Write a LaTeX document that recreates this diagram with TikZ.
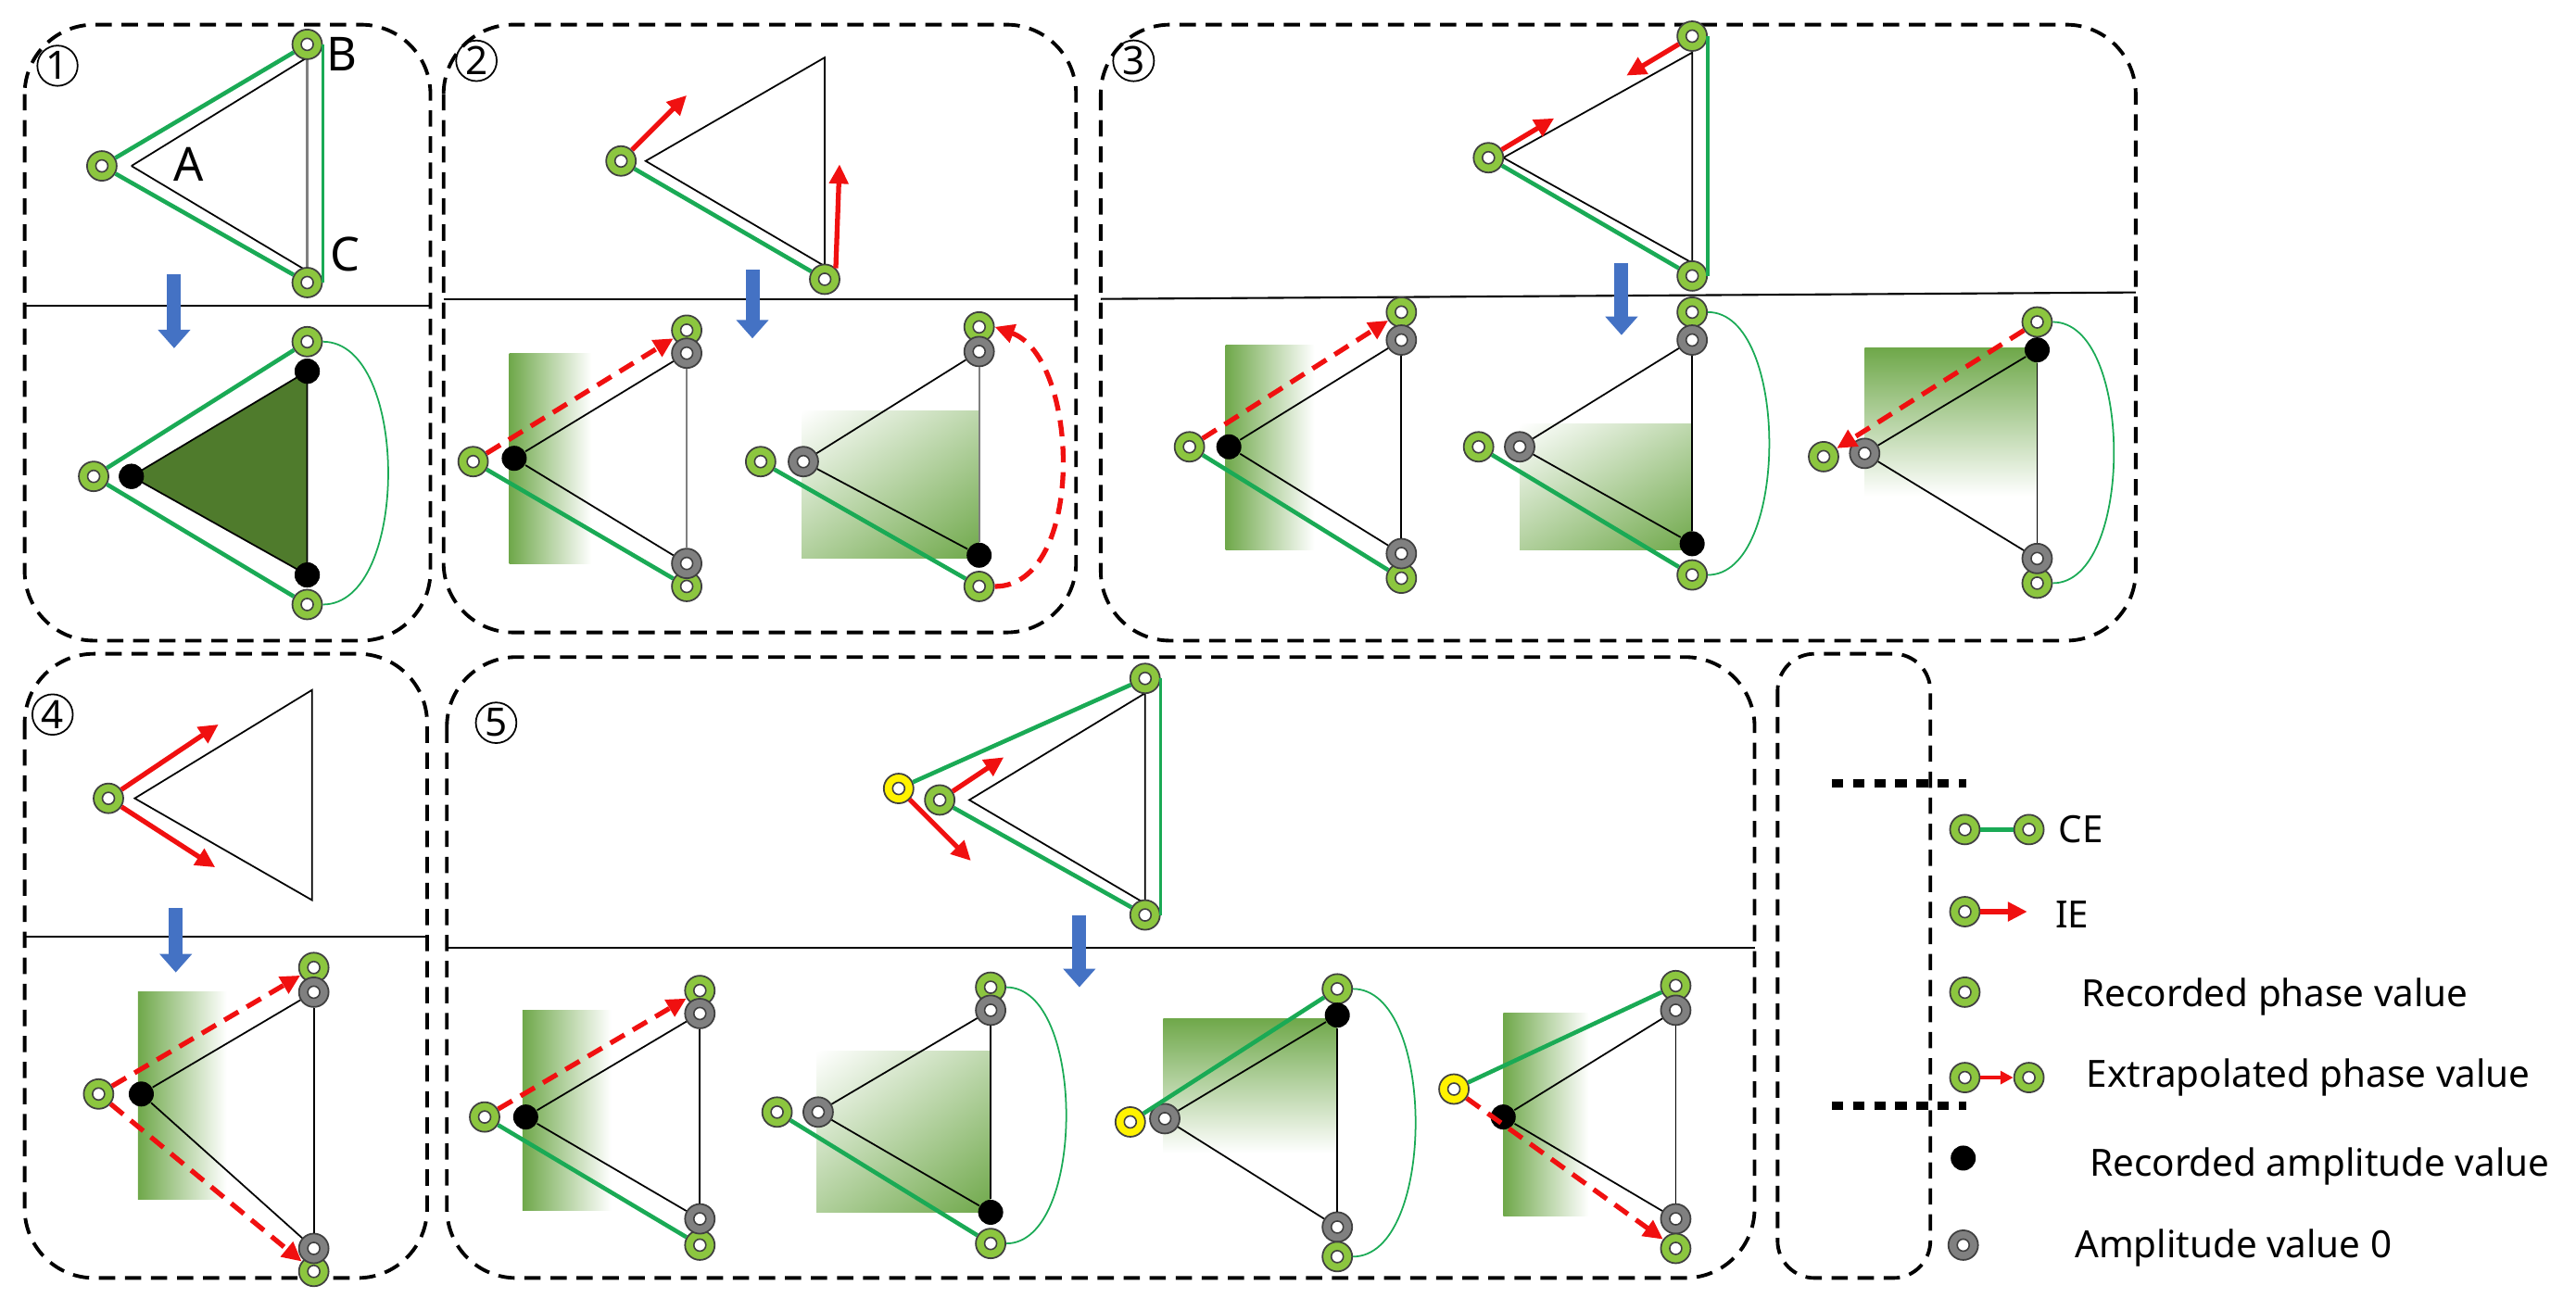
\documentclass[tikz,border=0pt]{standalone}
\usepackage{fontspec}
\setmainfont{Noto Sans}
\usetikzlibrary{arrows.meta,shadings}
\definecolor{lgreen}{HTML}{8CC63F}
\definecolor{cegreen}{HTML}{1AAA55}
\definecolor{dgreen}{HTML}{4F7B2C}
\definecolor{gshade}{HTML}{6FA84A}
\definecolor{bblue}{HTML}{4472C4}
\definecolor{rred}{HTML}{F01010}
\tikzset{
 ph/.style={circle,draw=black!75,line width=0.5pt,fill=lgreen,minimum size=0.32cm,inner sep=0pt,
   path picture={\draw[black!75,fill=white,line width=0.45pt] (path picture bounding box.center) circle (0.065cm);}},
 gz/.style={ph,fill=black!50},
 yp/.style={ph,fill=yellow},
 amp/.style={circle,fill=black,minimum size=0.27cm,inner sep=0pt},
 tri/.style={draw=black,line width=0.5pt},
 ce/.style={draw=cegreen,line width=1.3pt},
 ie/.style={draw=rred,line width=1.5pt,-{Triangle[length=0.21cm,width=0.2cm]}},
 ied/.style={ie,dash pattern=on 5pt off 3pt},
 arcg/.style={draw=cegreen,line width=0.5pt},
 box/.style={draw=black,line width=1.1pt,rounded corners=0.75cm,dash pattern=on 5pt off 3pt},
 sep/.style={draw=black,line width=0.6pt},
 down/.style={draw=bblue,line width=0.15cm,-{Triangle[length=0.2cm,width=0.34cm]}},
 num/.style={circle,draw=black,line width=0.5pt,inner sep=0.5pt,minimum size=0.42cm,font=\large},
 leg/.style={anchor=west,font=\fontsize{11.5}{14}\selectfont},
 diag/.style={upper left=white,upper right=gshade!45,lower left=gshade!55,lower right=gshade},
}
\begin{document}
\begin{tikzpicture}[x=0.01773cm,y=-0.01773cm]
\useasboundingbox (0,0) rectangle (1568,790);
% ================= boxes
\draw[box] (15,15) rectangle (262,390);
\draw[box] (270,15) rectangle (655,385);
\draw[box] (670,15) rectangle (1300,390);
\draw[box] (15,398) rectangle (260,778);
\draw[box] (272,400) rectangle (1068,778);
\draw[box,rounded corners=0.4cm] (1082,398) rectangle (1175,778);
\draw[sep] (15,186) -- (262,186);
\draw[sep] (270,182) -- (655,182);
\draw[sep] (670,182) -- (1300,178);
\draw[sep] (15,570) -- (260,570);
\draw[sep] (272,577) -- (1068,577);
\node[num] (n1) at (35,40) {1};
\node[num] (n2) at (290,37) {2};
\node[num] (n3) at (690,37) {3};
\node[num] (n4) at (32,435) {4};
\node[num] (n5) at (302,440) {5};
% ================= panel 1
\coordinate (a1t) at (80,101); \coordinate (b1t) at (187,35); \coordinate (c1t) at (187,165);
\draw[tri] (a1t) -- (b1t); \draw[tri] (a1t) -- (c1t); \draw[gray,line width=0.8pt] (b1t) -- (c1t);
\node[ph] (p1a) at (62,101) {}; \node[ph] (p1b) at (187,27) {}; \node[ph] (p1c) at (187,172) {};
\draw[ce] (p1a) -- (p1b); \draw[ce] (p1a) -- (p1c);
\draw[cegreen,line width=0.9pt] (p1b.east) -- (p1c.east);
\node (lA) at (115,100) {\Large A}; \node (lB) at (208,33) {\Large B}; \node (lC) at (210,155) {\Large C};
\coordinate (q1s) at (106,167); \coordinate (q1e) at (106,212); \draw[down] (q1s) -- (q1e);
\node[amp] (d1a) at (80,290) {}; \node[amp] (d1b) at (187,226) {}; \node[amp] (d1c) at (187,350) {};
\fill[dgreen] (d1a.center) -- (d1b.center) -- (d1c.center) -- cycle;
\draw[tri] (d1a.center) -- (d1b.center) -- (d1c.center) -- cycle;
\node[amp] at (d1a) {}; \node[amp] at (d1b) {}; \node[amp] at (d1c) {};
\node[ph] (g1a) at (57,290) {}; \node[ph] (g1b) at (187,208) {}; \node[ph] (g1c) at (187,368) {};
\draw[ce] (g1a) -- (g1b); \draw[ce] (g1a) -- (g1c);
\draw[arcg] (g1b.east) to[out=0,in=0,looseness=0.85] (g1c.east);
% ================= panel 2
\coordinate (a2t) at (393,98); \coordinate (b2t) at (502,35); \coordinate (c2t) at (502,162);
\draw[tri] (a2t) -- (b2t) -- (c2t) -- cycle;
\node[ph] (p2a) at (378,98) {}; \node[ph] (p2c) at (502,170) {};
\draw[ce] (p2a) -- (p2c);
\coordinate (r2a) at (418,58); \draw[ie] (p2a) -- (r2a);
\coordinate (r2b) at (511,100); \draw[ie] (p2c.north east) -- (r2b);
\coordinate (q2s) at (458,164); \coordinate (q2e) at (458,206); \draw[down] (q2s) -- (q2e);
% bottom left
\shade[left color=gshade,right color=white] (310,215) rectangle (360,343);
\node[ph] (g2a) at (288,281) {}; \node[ph] (g2b) at (418,201) {}; \node[ph] (g2c) at (418,357) {};
\node[gz] (z2b) at (418,215) {}; \node[gz] (z2c) at (418,343) {};
\node[amp] (d2a) at (313,279) {};
\draw[tri] (d2a) -- (z2b); \draw[tri] (d2a) -- (z2c); \draw[tri,gray] (z2b) -- (z2c);
\draw[ce] (g2a) -- (g2c); \draw[ied] (g2a) -- (g2b);
% bottom right
\shade[diag] (488,250) rectangle (596,340);
\node[ph] (g2d) at (463,281) {}; \node[ph] (g2e) at (596,199) {}; \node[ph] (g2f) at (596,357) {};
\node[gz] (z2d) at (489,281) {}; \node[gz] (z2e) at (596,214) {}; \node[amp] (d2f) at (596,338) {};
\draw[tri] (z2d) -- (z2e); \draw[tri] (z2d) -- (d2f); \draw[tri,gray] (z2e) -- (d2f);
\draw[ce] (g2d) -- (g2f);
\draw[ied] (g2f.east) to[out=0,in=-20,looseness=0.9] (g2e.east);
% ================= panel 3
\coordinate (a3t) at (915,96); \coordinate (b3t) at (1030,32); \coordinate (c3t) at (1030,160);
\draw[tri] (a3t) -- (b3t) -- (c3t) -- cycle;
\node[ph] (p3a) at (906,96) {}; \node[ph] (p3b) at (1030,22) {}; \node[ph] (p3c) at (1030,168) {};
\draw[ce] (p3a) -- (p3c); \draw[cegreen,line width=0.9pt] (p3b.east) -- (p3c.east);
\coordinate (r3a) at (946,72); \draw[ie] (p3a) -- (r3a);
\coordinate (r3b) at (990,46); \draw[ie] (p3b) -- (r3b);
\coordinate (q3s) at (987,160); \coordinate (q3e) at (987,204); \draw[down] (q3s) -- (q3e);
% b1
\shade[left color=gshade,right color=white] (746,210) rectangle (800,335);
\node[ph] (g3a) at (724,272) {}; \node[ph] (g3b) at (853,190) {}; \node[ph] (g3c) at (853,352) {};
\node[gz] (z3b) at (853,207) {}; \node[gz] (z3c) at (853,337) {}; \node[amp] (d3a) at (748,272) {};
\draw[tri] (d3a) -- (z3b); \draw[tri] (d3a) -- (z3c); \draw[tri] (z3b) -- (z3c);
\draw[ce] (g3a) -- (g3c); \draw[ied] (g3a) -- (g3b);
% b2
\shade[diag] (925,258) rectangle (1030,335);
\node[ph] (g3d) at (900,272) {}; \node[ph] (g3e) at (1030,190) {}; \node[ph] (g3f) at (1030,350) {};
\node[gz] (z3d) at (925,272) {}; \node[gz] (z3e) at (1030,207) {}; \node[amp] (d3f) at (1030,331) {};
\draw[tri] (z3d) -- (z3e); \draw[tri] (z3d) -- (d3f); \draw[tri] (z3e) -- (d3f);
\draw[ce] (g3d) -- (g3f);
\draw[arcg] (g3e.east) to[out=0,in=0,looseness=0.8] (g3f.east);
% b3
\shade[top color=gshade,bottom color=white] (1135,212) rectangle (1240,302);
\node[ph] (g3g) at (1110,278) {}; \node[ph] (g3h) at (1240,196) {}; \node[ph] (g3i) at (1240,355) {};
\node[gz] (z3g) at (1135,276) {}; \node[gz] (z3i) at (1240,340) {}; \node[amp] (d3h) at (1240,213) {};
\draw[tri] (z3g) -- (d3h); \draw[tri] (z3g) -- (z3i); \draw[tri] (d3h) -- (z3i);
\draw[ied] (g3h) -- (g3g);
\draw[arcg] (g3h.east) to[out=0,in=0,looseness=0.8] (g3i.east);
% ================= panel 4
\coordinate (a4t) at (82,486); \coordinate (b4t) at (190,420); \coordinate (c4t) at (190,548);
\draw[tri] (a4t) -- (b4t) -- (c4t) -- cycle;
\node[ph] (p4a) at (66,486) {};
\coordinate (r4a) at (133,441); \draw[ie] (p4a) -- (r4a);
\coordinate (r4b) at (131,528); \draw[ie] (p4a) -- (r4b);
\coordinate (q4s) at (107,553); \coordinate (q4e) at (107,592); \draw[down] (q4s) -- (q4e);
\shade[left color=gshade,right color=white] (84,604) rectangle (138,730);
\node[ph] (g4a) at (60,666) {}; \node[ph] (g4b) at (191,589) {}; \node[ph] (g4c) at (191,774) {};
\node[gz] (z4b) at (191,604) {}; \node[gz] (z4c) at (191,760) {}; \node[amp] (d4a) at (86,666) {};
\draw[tri] (d4a) -- (z4b); \draw[tri] (d4a) -- (z4c); \draw[tri] (z4b) -- (z4c);
\draw[ied] (g4a) -- (g4b); \draw[ied] (g4a) -- (g4c);
% ================= panel 5
\coordinate (a5t) at (590,487); \coordinate (b5t) at (697,422); \coordinate (c5t) at (697,550);
\draw[tri] (a5t) -- (b5t) -- (c5t) -- cycle;
\node[yp] (y5a) at (547,480) {}; \node[ph] (p5a) at (572,487) {};
\node[ph] (p5b) at (697,413) {}; \node[ph] (p5c) at (697,557) {};
\draw[ce] (y5a) -- (p5b); \draw[ce] (p5a) -- (p5c); \draw[cegreen,line width=0.9pt] (p5b.east) -- (p5c.east);
\coordinate (r5a) at (611,461); \draw[ie] (p5a) -- (r5a);
\coordinate (r5b) at (591,524); \draw[ie] (y5a) -- (r5b);
\coordinate (q5s) at (657,557); \coordinate (q5e) at (657,601); \draw[down] (q5s) -- (q5e);
% b1
\shade[left color=gshade,right color=white] (318,615) rectangle (372,737);
\node[ph] (g5a) at (295,680) {}; \node[ph] (g5b) at (426,603) {}; \node[ph] (g5c) at (426,758) {};
\node[gz] (z5b) at (426,617) {}; \node[gz] (z5c) at (426,742) {}; \node[amp] (d5a) at (320,680) {};
\draw[tri] (d5a) -- (z5b); \draw[tri] (d5a) -- (z5c); \draw[tri] (z5b) -- (z5c);
\draw[ce] (g5a) -- (g5c); \draw[ied] (g5a) -- (g5b);
% b2
\shade[diag] (497,640) rectangle (603,738);
\node[ph] (g5d) at (473,677) {}; \node[ph] (g5e) at (603,601) {}; \node[ph] (g5f) at (603,757) {};
\node[gz] (z5d) at (498,677) {}; \node[gz] (z5e) at (603,615) {}; \node[amp] (d5f) at (603,738) {};
\draw[tri] (z5d) -- (z5e); \draw[tri] (z5d) -- (d5f); \draw[tri] (z5e) -- (d5f);
\draw[ce] (g5d) -- (g5f);
\draw[arcg] (g5e.east) to[out=0,in=0,looseness=0.8] (g5f.east);
% b3
\shade[top color=gshade,bottom color=white] (708,620) rectangle (814,702);
\node[yp] (y5g) at (688,683) {}; \node[gz] (z5g) at (709,681) {};
\node[ph] (g5h) at (814,602) {}; \node[amp] (d5h) at (814,618) {};
\node[gz] (z5i) at (814,747) {}; \node[ph] (g5i) at (814,765) {};
\draw[tri] (z5g) -- (d5h); \draw[tri] (z5g) -- (z5i); \draw[tri] (d5h) -- (z5i);
\draw[ce] (y5g) -- (g5h);
\draw[arcg] (g5h.east) to[out=0,in=0,looseness=0.8] (g5i.east);
% b4
\shade[left color=gshade,right color=white] (915,617) rectangle (967,740);
\node[yp] (y5j) at (885,663) {}; \node[amp] (d5j) at (915,680) {};
\node[ph] (g5k) at (1020,600) {}; \node[gz] (z5k) at (1020,615) {};
\node[gz] (z5l) at (1020,742) {}; \node[ph] (g5l) at (1020,760) {};
\draw[tri] (d5j) -- (z5k); \draw[tri] (d5j) -- (z5l); \draw[tri] (z5k) -- (z5l);
\draw[ce] (y5j) -- (g5k); \draw[ied] (y5j) -- (g5l);
% ================= legend
\coordinate (dl1) at (1115,477); \coordinate (dr1) at (1197,477);
\coordinate (dl2) at (1115,673); \coordinate (dr2) at (1197,673);
\draw[line width=2.6pt,dash pattern=on 3.5pt off 3pt] (dl1) -- (dr1);
\draw[line width=2.6pt,dash pattern=on 3.5pt off 3pt] (dl2) -- (dr2);
\node[ph] (lce1) at (1196,505) {}; \node[ph] (lce2) at (1235,505) {};
\draw[ce] (lce1) -- (lce2);
\node[leg] (tce) at (1246,505) {CE};
\node[ph] (lie) at (1196,555) {}; \coordinate (lie2) at (1234,555);
\draw[ie] (lie) -- (lie2);
\node[leg] (tie) at (1244,557) {IE};
\node[ph] (lrp) at (1196,604) {};
\node[leg] (trp) at (1260,607) {Recorded phase value};
\node[ph] (lep1) at (1196,656) {}; \node[ph] (lep2) at (1235,656) {};
\draw[draw=rred,line width=1pt,-{Triangle[length=0.14cm,width=0.14cm]}] (lep1) -- (lep2);
\node[leg] (tep) at (1263,656) {Extrapolated phase value};
\node[amp] (lra) at (1195,705) {};
\node[leg] (tra) at (1265,710) {Recorded amplitude value};
\node[gz] (lz) at (1195,758) {};
\node[leg] (tz) at (1256,760) {Amplitude value 0};
\end{tikzpicture}
\end{document}
